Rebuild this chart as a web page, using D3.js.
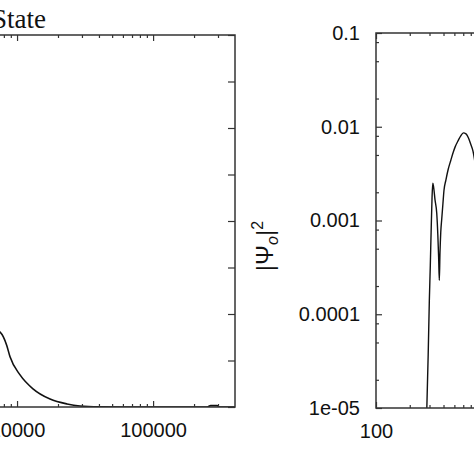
<!DOCTYPE html>
<html>
<head>
<meta charset="utf-8">
<script src="https://cdn.jsdelivr.net/npm/d3@7"></script>
<style>
body { margin: 0; background: #fff; }
svg { display: block; font-family: "Liberation Sans", Arial, sans-serif; }
</style>
</head>
<body>
<svg width="474" height="474"></svg>
<script>
// left panel: ground state density vs r (log x), only the right part is in view
var groundX = [5000, 6000, 7000, 7500, 7930, 8390, 8880, 10520, 13100, 17480, 23300, 29000, 40000, 60000, 100000, 200000, 250000, 265000, 280000, 295000, 310000, 400000];
var groundP = [0.17, 0.169, 0.166, 0.161, 0.151, 0.133, 0.108, 0.069, 0.039, 0.017, 0.0065, 0.0022, 0.0004, 0, 0, 0, 0, 0.003, 0.003, 0.003, 0, 0];
var groundTicksY = [0, 0.1, 0.2, 0.3, 0.4, 0.5, 0.6, 0.7, 0.8];
var leftXTicks = [1000, 10000, 100000];

// right panel: |psi_o|^2 (log-log)
var psiX = [284, 292, 299, 305, 310, 316, 321, 326, 336, 348, 356, 362, 367, 372, 378, 386, 395, 404, 420, 440, 465, 490, 508, 543, 570, 601, 635, 668, 700, 730, 780, 850];
var psiY = [1e-5, 3.7e-5, 1.4e-4, 3.3e-4, 7.4e-4, 1.74e-3, 2.5e-3, 2.3e-3, 1.66e-3, 1.2e-3, 7e-4, 4e-4, 2.3e-4, 4.5e-4, 7.5e-4, 1.05e-3, 1.5e-3, 2.1e-3, 2.7e-3, 3.5e-3, 4.4e-3, 5.4e-3, 6.1e-3, 7.2e-3, 8.0e-3, 8.6e-3, 8.4e-3, 7.6e-3, 6.5e-3, 5.6e-3, 3.5e-3, 1.5e-3];
var psiTicks = [1e-5, 1e-4, 1e-3, 0.01, 0.1];
var psiTickLabels = ["1e-05", "0.0001", "0.001", "0.01", "0.1"];
var rightXTicks = [100];

var svg = d3.select("svg");
svg.append("rect").attr("width", 474).attr("height", 474).attr("fill", "#fff");

var axisColor = "#333";

function minorLog(lo, hi, mults) {
    var out = [];
    for (var e = Math.round(Math.log10(lo)); Math.pow(10, e) < hi; e++) {
        mults.forEach(function(m) {
            var v = m * Math.pow(10, e);
            if (v > lo && v < hi) out.push(v);
        });
    }
    return out;
}

function styleAxis(g) {
    g.select(".domain").remove();
    g.selectAll(".tick line").attr("stroke", axisColor).attr("stroke-width", 1.2);
    g.selectAll(".tick text").attr("fill", "#111").style("font-size", "20px")
        .style("font-family", "'Liberation Sans', Arial, sans-serif");
    g.attr("font-size", null).attr("font-family", null);
}

function addAxis(parent, axis, tx, ty) {
    parent.append("g").attr("transform", "translate(" + tx + "," + ty + ")").call(axis).call(styleAxis);
}

// ---------- left panel ----------
var xL = d3.scaleLog().domain([1000, 400000]).range([-119, 235]);
var yL = d3.scaleLinear().domain([0, 0.8]).range([407, 35]);
var gL = svg.append("g");
var minorXL = minorLog(1000, 400000, [2, 3, 4, 5, 6, 7, 8, 9]);

gL.append("clipPath").attr("id", "clipL").append("rect")
    .attr("x", xL.range()[0]).attr("y", 35).attr("width", 235 - xL.range()[0]).attr("height", 372);

gL.append("path")
    .datum(groundX.map(function(d, i) { return [d, groundP[i]]; }))
    .attr("clip-path", "url(#clipL)")
    .attr("fill", "none").attr("stroke", "#111").attr("stroke-width", 1.6)
    .attr("d", d3.line().x(function(d) { return xL(d[0]); }).y(function(d) { return yL(d[1]); }).curve(d3.curveMonotoneX));

addAxis(gL, d3.axisBottom(xL).tickValues(leftXTicks).tickSize(-6).tickPadding(16).tickFormat(d3.format("d")), 0, 407);
addAxis(gL, d3.axisBottom(xL).tickValues(minorXL).tickSize(-3).tickFormat(""), 0, 407);
addAxis(gL, d3.axisTop(xL).tickValues(leftXTicks).tickSize(-6).tickFormat(""), 0, 35);
addAxis(gL, d3.axisTop(xL).tickValues(minorXL).tickSize(-3).tickFormat(""), 0, 35);
addAxis(gL, d3.axisLeft(yL).tickValues(groundTicksY).tickSize(-7).tickPadding(14), xL.range()[0], 0);
addAxis(gL, d3.axisRight(yL).tickValues(groundTicksY).tickSize(-7).tickFormat(""), 235, 0);

gL.append("rect").attr("x", xL.range()[0]).attr("y", 35).attr("width", 235 - xL.range()[0]).attr("height", 372)
    .attr("fill", "none").attr("stroke", axisColor).attr("stroke-width", 1.5);

gL.append("text").attr("x", 46).attr("y", 28).attr("text-anchor", "end")
    .style("font-family", "'Liberation Serif', 'Times New Roman', serif").style("font-size", "27px")
    .attr("fill", "#111").text("Ground State");

// ---------- right panel ----------
var xR = d3.scaleLog().domain([100, 900]).range([376, 483]);
var yR = d3.scaleLog().domain([1e-5, 0.1]).range([408, 33]);
var gR = svg.append("g");
var minorXR = minorLog(100, 900, [2, 3, 4, 5, 6, 7, 8, 9]);
var minorYR = minorLog(1e-5, 0.1, [2, 5, 8]);

gR.append("clipPath").attr("id", "clipR").append("rect")
    .attr("x", 376).attr("y", 33).attr("width", 107).attr("height", 375);

gR.append("path")
    .datum(psiX.map(function(d, i) { return [d, psiY[i]]; }))
    .attr("clip-path", "url(#clipR)")
    .attr("fill", "none").attr("stroke", "#111").attr("stroke-width", 1.4)
    .attr("d", d3.line().x(function(d) { return xR(d[0]); }).y(function(d) { return yR(d[1]); }).curve(d3.curveMonotoneX));

addAxis(gR, d3.axisBottom(xR).tickValues(rightXTicks).tickSize(-6).tickPadding(16).tickFormat(d3.format("d")), 0, 408);
addAxis(gR, d3.axisBottom(xR).tickValues(minorXR).tickSize(-3).tickFormat(""), 0, 408);
addAxis(gR, d3.axisTop(xR).tickValues(rightXTicks).tickSize(-6).tickFormat(""), 0, 33);
addAxis(gR, d3.axisTop(xR).tickValues(minorXR).tickSize(-3).tickFormat(""), 0, 33);
addAxis(gR, d3.axisLeft(yR).tickValues(psiTicks).tickSize(-6).tickPadding(16)
    .tickFormat(function(d, i) { return psiTickLabels[i]; }), 376, 0);
addAxis(gR, d3.axisLeft(yR).tickValues(minorYR).tickSize(-3).tickFormat(""), 376, 0);

gR.append("rect").attr("x", 376).attr("y", 33).attr("width", 107).attr("height", 375)
    .attr("fill", "none").attr("stroke", axisColor).attr("stroke-width", 1.5);

var ylab = gR.append("text").attr("transform", "translate(273,246) rotate(-90)")
    .attr("text-anchor", "middle").attr("fill", "#111").style("font-size", "24px");
ylab.append("tspan").text("|\u03A8");
ylab.append("tspan").attr("dy", 5).style("font-size", "16px").style("font-style", "italic").text("o");
ylab.append("tspan").attr("dy", -5).text("|");
ylab.append("tspan").attr("dy", -10).style("font-size", "16px").text("2");
</script>
</body>
</html>
